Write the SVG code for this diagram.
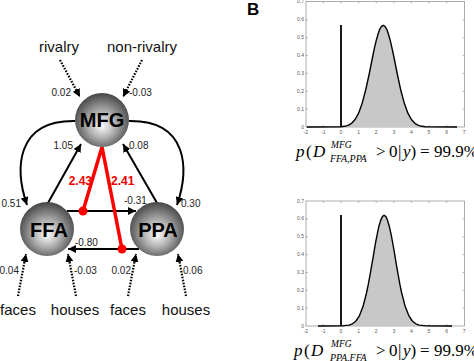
<svg xmlns="http://www.w3.org/2000/svg" width="474" height="361" viewBox="0 0 474 361">
<style>
.lbl{font-family:"Liberation Sans",Arial,sans-serif;font-size:10px;fill:#222}
.in{font-family:"Liberation Sans",Arial,sans-serif;font-size:15px;fill:#111}
.node{font-family:"Liberation Sans",Arial,sans-serif;font-size:20px;font-weight:bold;fill:#000}
.red{font-family:"Liberation Sans",Arial,sans-serif;font-size:12px;font-weight:bold;fill:#e00}
.solid{fill:none;stroke:#000;stroke-width:2}
.dot{fill:none;stroke:#000;stroke-width:2.2;stroke-dasharray:1.6 1.4}
.rl{fill:none;stroke:#f00;stroke-width:3.5}
.tk{font-family:"Liberation Sans",Arial,sans-serif;font-size:5px;fill:#555}
.ax{fill:#fff;stroke:#888;stroke-width:0.7}
.tm{stroke:#888;stroke-width:0.6}
.f{font-family:"Liberation Serif","Times New Roman",serif;font-size:17px;fill:#000}
.i{font-style:italic}
</style>
<defs>
<radialGradient id="sph" cx="0.5" cy="0.55" r="0.55" fx="0.5" fy="0.62">
<stop offset="0" stop-color="#fbfbfb"/>
<stop offset="0.45" stop-color="#b0b0b0"/>
<stop offset="1" stop-color="#454545"/>
</radialGradient>
<marker id="ah" markerUnits="userSpaceOnUse" markerWidth="10" markerHeight="8" refX="8" refY="4" orient="auto">
<path d="M0,0 L8,4 L0,8 Z" fill="#000"/>
</marker>
</defs>

<!-- connectors -->
<g id="connectors">
<path class="dot" d="M60,60 L80,97" marker-end="url(#ah)"/>
<path class="dot" d="M142,60 L123,97" marker-end="url(#ah)"/>
<path class="solid" d="M75,121 C15,120 15,170 27,205" marker-end="url(#ah)"/>
<path class="solid" d="M129,121 C189,120 189,170 177,205" marker-end="url(#ah)"/>
<path class="solid" d="M48,203 L81,144" marker-end="url(#ah)"/>
<path class="solid" d="M157,203 L123,144" marker-end="url(#ah)"/>
<path class="solid" d="M67,211 L136,211" marker-end="url(#ah)"/>
<path class="solid" d="M139,249 L68,249" marker-end="url(#ah)"/>
<path class="dot" d="M18,296 L26,254" marker-end="url(#ah)"/>
<path class="dot" d="M76,296 L68,254" marker-end="url(#ah)"/>
<path class="dot" d="M128,296 L136,254" marker-end="url(#ah)"/>
<path class="dot" d="M186,296 L178,254" marker-end="url(#ah)"/>
<path class="rl" d="M83,211 L102,147 L122,249"/>
<circle cx="83" cy="211" r="4.5" fill="#f00"/>
<circle cx="122" cy="249" r="4.5" fill="#f00"/>
</g>

<g id="MFG">
<circle cx="102" cy="120" r="27" fill="url(#sph)"/>
<text class="node" x="102" y="127" text-anchor="middle">MFG</text>
</g>
<g id="FFA">
<circle cx="47" cy="229" r="27" fill="url(#sph)"/>
<text class="node" x="49" y="237" text-anchor="middle">FFA</text>
</g>
<g id="PPA">
<circle cx="157" cy="229" r="27" fill="url(#sph)"/>
<text class="node" x="158" y="237" text-anchor="middle">PPA</text>
</g>

<g id="inputs">
<text class="in" x="59" y="52" text-anchor="middle">rivalry</text>
<text class="in" x="142" y="52" text-anchor="middle">non-rivalry</text>
<text class="in" x="18" y="315" text-anchor="middle">faces</text>
<text class="in" x="75" y="315" text-anchor="middle">houses</text>
<text class="in" x="128" y="315" text-anchor="middle">faces</text>
<text class="in" x="186" y="315" text-anchor="middle">houses</text>
</g>

<g id="labels">
<text class="lbl" x="71" y="96" text-anchor="end">0.02</text>
<text class="lbl" x="129" y="96">-0.03</text>
<text class="lbl" x="73" y="149" text-anchor="end">1.05</text>
<text class="lbl" x="129" y="149">0.08</text>
<text class="lbl" x="21" y="207" text-anchor="end">0.51</text>
<text class="lbl" x="181" y="207">0.30</text>
<text class="lbl" x="124" y="204">-0.31</text>
<text class="lbl" x="75" y="246">-0.80</text>
<text class="lbl" x="19" y="274" text-anchor="end">-0.04</text>
<text class="lbl" x="74" y="274">-0.03</text>
<text class="lbl" x="131" y="274" text-anchor="end">0.02</text>
<text class="lbl" x="183" y="274">0.06</text>
<text class="red" x="92" y="185" text-anchor="end">2.43</text>
<text class="red" x="111" y="185">2.41</text>
</g>

<text x="247" y="15" font-family="Liberation Sans,Arial,sans-serif" font-size="17" font-weight="bold">B</text>

<!-- top plot -->
<g id="plot1">
<rect class="ax" x="306" y="1.5" width="158.5" height="125.5"/>
<g class="tm">
<path d="M306,127h2M306,109.1h2M306,91.3h2M306,73.4h2M306,55.6h2M306,37.8h2M306,19.9h2M464.5,109.1h-2M464.5,91.3h-2M464.5,73.4h-2M464.5,55.6h-2M464.5,37.8h-2M464.5,19.9h-2"/>
<path d="M323.4,127v-2M341,127v-2M358.6,127v-2M376.2,127v-2M393.8,127v-2M411.4,127v-2M429,127v-2M446.6,127v-2M323.4,1.5v2M341,1.5v2M358.6,1.5v2M376.2,1.5v2M393.8,1.5v2M411.4,1.5v2M429,1.5v2M446.6,1.5v2"/>
</g>
<g class="tk" text-anchor="end">
<text x="304" y="128.5">0</text><text x="304" y="110.6">0.1</text><text x="304" y="92.8">0.2</text><text x="304" y="74.9">0.3</text><text x="304" y="57.1">0.4</text><text x="304" y="39.3">0.5</text><text x="304" y="21.4">0.6</text><text x="304" y="3">0.7</text>
</g>
<g class="tk" text-anchor="middle">
<text x="305.8" y="134">-2</text><text x="323.4" y="134">-1</text><text x="341" y="134">0</text><text x="358.6" y="134">1</text><text x="376.2" y="134">2</text><text x="393.8" y="134">3</text><text x="411.4" y="134">4</text><text x="429" y="134">5</text><text x="446.6" y="134">6</text><text x="464.2" y="134">7</text>
</g>
<polygon fill="#c8c8c8" points="341,127 341,126.7 344.5,126.3 348,125.3 351.6,123.3 355.1,119.5 358.6,113.2 362.1,103.6 365.6,90.3 369.2,74 372.7,56.5 374.4,48.2 376.2,40.6 378,34.2 379.7,29.3 381.5,26.3 383.2,25.3 385,26.3 386.8,29.3 388.5,34.2 390.3,40.6 392,48.2 393.8,56.5 397.3,74 400.8,90.3 404.4,103.6 407.9,113.2 411.4,119.5 414.9,123.3 418.4,125.3 422,126.3 425.5,126.7 429,126.9 429,127"/>
<polyline fill="none" stroke="#000" stroke-width="1.4" stroke-linejoin="round" points="307,127 341,126.7 344.5,126.3 348,125.3 351.6,123.3 355.1,119.5 358.6,113.2 362.1,103.6 365.6,90.3 369.2,74 372.7,56.5 374.4,48.2 376.2,40.6 378,34.2 379.7,29.3 381.5,26.3 383.2,25.3 385,26.3 386.8,29.3 388.5,34.2 390.3,40.6 392,48.2 393.8,56.5 397.3,74 400.8,90.3 404.4,103.6 407.9,113.2 411.4,119.5 414.9,123.3 418.4,125.3 422,126.3 425.5,126.7 429,126.9 457,127"/>
<line x1="341" y1="127" x2="341" y2="25" stroke="#000" stroke-width="1.8"/>
</g>
<text class="f" y="157"><tspan x="296" class="i">p</tspan><tspan x="306">(</tspan><tspan x="313" class="i">D</tspan><tspan x="331" y="148" font-size="9.5" class="i">MFG</tspan><tspan x="330" y="162" font-size="10" class="i">FFA,PPA</tspan><tspan x="376" y="157">&gt;</tspan><tspan x="389">0</tspan><tspan x="398">|</tspan><tspan x="403" class="i">y</tspan><tspan>)</tspan><tspan x="420">=</tspan><tspan x="434">99.9%</tspan></text>

<!-- bottom plot -->
<g id="plot2">
<rect class="ax" x="306" y="201" width="158.5" height="125"/>
<g class="tm">
<path d="M306,308.2h2M306,290.3h2M306,272.5h2M306,254.6h2M306,236.8h2M306,218.9h2M464.5,308.2h-2M464.5,290.3h-2M464.5,272.5h-2M464.5,254.6h-2M464.5,236.8h-2M464.5,218.9h-2"/>
<path d="M323.4,326v-2M341,326v-2M358.6,326v-2M376.2,326v-2M393.8,326v-2M411.4,326v-2M429,326v-2M446.6,326v-2M323.4,201v2M341,201v2M358.6,201v2M376.2,201v2M393.8,201v2M411.4,201v2M429,201v2M446.6,201v2"/>
</g>
<g class="tk" text-anchor="end">
<text x="304" y="327.5">0</text><text x="304" y="309.7">0.1</text><text x="304" y="291.8">0.2</text><text x="304" y="274">0.3</text><text x="304" y="256.1">0.4</text><text x="304" y="238.3">0.5</text><text x="304" y="220.4">0.6</text><text x="304" y="202.5">0.7</text>
</g>
<g class="tk" text-anchor="middle">
<text x="305.8" y="333">-2</text><text x="323.4" y="333">-1</text><text x="341" y="333">0</text><text x="358.6" y="333">1</text><text x="376.2" y="333">2</text><text x="393.8" y="333">3</text><text x="411.4" y="333">4</text><text x="429" y="333">5</text><text x="446.6" y="333">6</text><text x="464.2" y="333">7</text>
</g>
<polygon fill="#c8c8c8" points="341.9,326 341.9,325.9 348.9,325.1 352.4,323.8 356,321 359.5,315.6 363,306.6 366.5,293 368.3,284.4 370,275 371.8,264.8 373.6,254.4 375.3,244.2 377.1,234.8 378.8,226.7 380.6,220.6 382.4,216.6 384.1,215.3 385.9,216.6 387.6,220.6 389.4,226.7 391.2,234.8 392.9,244.2 394.7,254.4 396.4,264.8 398.2,275 399.9,284.4 401.7,293 405.2,306.6 408.8,315.6 412.3,321 415.8,323.8 419.3,325.1 426.3,325.9 426.3,326"/>
<polyline fill="none" stroke="#000" stroke-width="1.4" stroke-linejoin="round" points="318,326 341.9,325.9 348.9,325.1 352.4,323.8 356,321 359.5,315.6 363,306.6 366.5,293 368.3,284.4 370,275 371.8,264.8 373.6,254.4 375.3,244.2 377.1,234.8 378.8,226.7 380.6,220.6 382.4,216.6 384.1,215.3 385.9,216.6 387.6,220.6 389.4,226.7 391.2,234.8 392.9,244.2 394.7,254.4 396.4,264.8 398.2,275 399.9,284.4 401.7,293 405.2,306.6 408.8,315.6 412.3,321 415.8,323.8 419.3,325.1 426.3,325.9 452,326"/>
<line x1="341" y1="326" x2="341" y2="215" stroke="#000" stroke-width="1.8"/>
</g>
<text class="f" y="356"><tspan x="294" class="i">p</tspan><tspan x="304">(</tspan><tspan x="311" class="i">D</tspan><tspan x="331" y="347" font-size="9.5" class="i">MFG</tspan><tspan x="330" y="361" font-size="10" class="i">PPA,FFA</tspan><tspan x="376" y="356">&gt;</tspan><tspan x="389">0</tspan><tspan x="398">|</tspan><tspan x="403" class="i">y</tspan><tspan>)</tspan><tspan x="420">=</tspan><tspan x="434">99.9%</tspan></text>
</svg>
